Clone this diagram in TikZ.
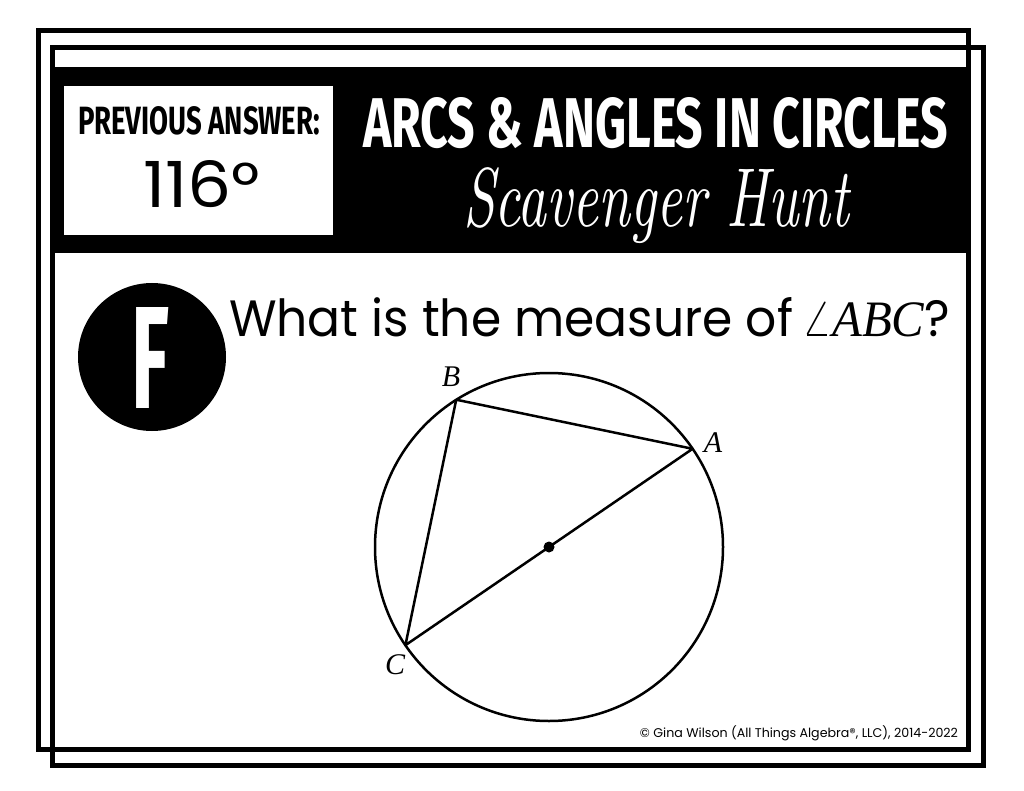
\documentclass[tikz,border=0pt]{standalone}
\usepackage{fontspec}
\usepackage{graphicx}
\newfontfamily\headfont{Fira Sans}
\newfontfamily\geofont{Poppins}
\newfontfamily\timesfont{Liberation Serif}
\begin{document}
\begin{tikzpicture}[x=1pt,y=-1pt,
  frame/.style={draw=black,line width=5pt},
  txt/.style={inner sep=0pt,outer sep=0pt},
  geo/.style={line width=2.5pt,line join=round},
  ptlabel/.style={inner sep=0pt,font=\fontsize{30}{30}\selectfont\timesfont\itshape}]
\useasboundingbox (0,0) rectangle (1024,791);
\fill[white] (0,0) rectangle (1024,791);
% frames
\draw[frame] (38,31) rectangle (968.5,749.5);
\draw[frame] (52.5,48) rectangle (983.5,765.5);
% header
\fill[black] (52,66.7) rectangle (971,253);
\fill[white] (64,86) rectangle (333,235);
\node[txt,anchor=north west] (prev) at (78,107) {\resizebox{242pt}{28pt}{\headfont\bfseries PREVIOUS ANSWER:}};
\node[txt,anchor=north west] (ans) at (143,160) {\resizebox{117pt}{47pt}{\geofont 116°}};
\node[txt,anchor=north west,text=white] (title) at (363,97) {\resizebox{585pt}{50pt}{\headfont\bfseries ARCS \& ANGLES IN CIRCLES}};
\node[txt,anchor=north west,text=white] (sub) at (463,168) {\resizebox*{386pt}{76pt}{\itshape Scavenger Hunt}};
% F badge
\fill[black] (152,357) circle (74);
\node[txt,text=white] (F) at (151,357.5) {\resizebox{38pt}{101pt}{\headfont\bfseries F}};
% question
\node[txt,anchor=north west] (q) at (229,297) {\resizebox{721pt}{39pt}{{\geofont What is the measure of}\,$\angle${\timesfont\itshape ABC}{\geofont ?}}};
% circle diagram
\coordinate (O) at (549,547);
\coordinate (A) at (692.6,448.8);
\coordinate (B) at (456.2,399.7);
\coordinate (C) at (405.4,645.2);
\draw[geo] (O) circle (174);
\draw[geo] (B) -- (A) -- (C) -- cycle;
\fill (O) circle (5.5);
\node[ptlabel] (lA) at (713,443) {A};
\node[ptlabel] (lB) at (451,377) {B};
\node[ptlabel] (lC) at (395,665) {C};
% copyright
\node[txt,anchor=east] (copy) at (958,733) {\resizebox{318pt}{!}{\geofont © Gina Wilson (All Things Algebra®, LLC), 2014-2022}};
\end{tikzpicture}
\end{document}
